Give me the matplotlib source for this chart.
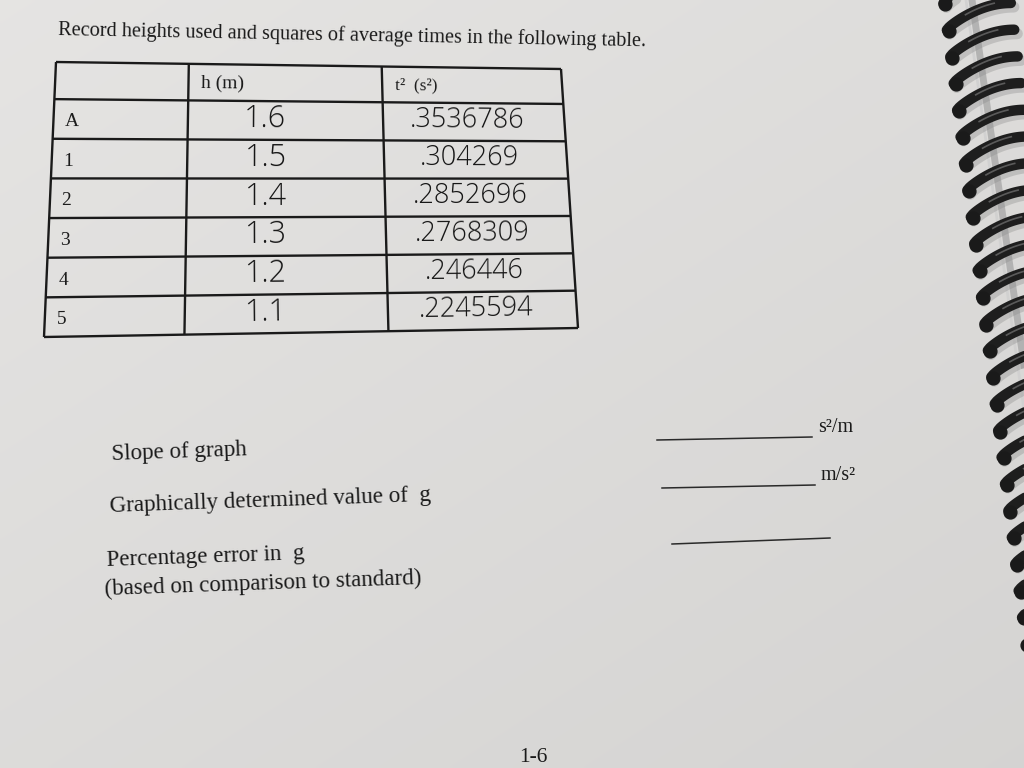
import numpy as np
import matplotlib
matplotlib.use("Agg")
import matplotlib.pyplot as plt

# ---- data (as written on the sheet) ----
row_labels = ["A", "1", "2", "3", "4", "5"]
heights_m = ["1.6", "1.5", "1.4", "1.3", "1.2", "1.1"]
t_squared_s2 = [".3536786", ".304269", ".2852696", ".2768309", ".246446", ".2245594"]
col_headers = ["", "h (m)", "t\u00b2  (s\u00b2)"]
title_text = "Record heights used and squares of average times in the following table."
questions = ["Slope of graph", "Graphically determined value of  g", "Percentage error in  g",
             "(based on comparison to standard)"]
units = ["s\u00b2/m", "m/s\u00b2", ""]
page_no = "1-6"

W, H = 1024, 768
fig = plt.figure(figsize=(W / 100, H / 100), dpi=100)
ax = fig.add_axes([0, 0, 1, 1])
ax.set_xlim(0, W)
ax.set_ylim(H, 0)
ax.axis("off")

# paper background with soft lighting gradient
yy, xx = np.mgrid[0:H:4, 0:W:4]
shade = 0.895 - 0.03 * (xx / W) - 0.035 * (yy / H)
bg = np.dstack([shade + 0.004, shade, shade - 0.006])
ax.imshow(np.clip(bg, 0, 1), extent=[0, W, H, 0], zorder=0, interpolation="bilinear")

ink = "#1a1a1a"
serif = ["Liberation Serif", "DejaVu Serif"]
hand = ["Open Sans", "DejaVu Sans"]

# title
ax.text(58, 30, title_text, fontsize=14.6, family=serif, color=ink,
        rotation=-1.1, rotation_mode="anchor", ha="left", va="center")

# ---- table (slightly skewed like the photo) ----
TL, TR = np.array([56.0, 62.0]), np.array([561.0, 69.0])
BL, BR = np.array([44.0, 337.0]), np.array([578.0, 328.0])

def P(u, v):
    top = TL + u * (TR - TL)
    bot = BL + u * (BR - BL)
    return top + v * (bot - top)

col_u = [0.0, 0.263, 0.645, 1.0]
n = len(row_labels)
header_v = 0.135
row_v = [0.0, header_v] + [header_v + (1 - header_v) * (i + 1) / n for i in range(n)]

for v in row_v:
    a, b = P(0, v), P(1, v)
    ax.plot([a[0], b[0]], [a[1], b[1]], color=ink, lw=1.7, zorder=3, solid_capstyle="butt")
for u in col_u:
    a, b = P(u, 0), P(u, 1)
    ax.plot([a[0], b[0]], [a[1], b[1]], color=ink, lw=1.7, zorder=3, solid_capstyle="butt")

def rot_at(v):
    top_ang = np.degrees(np.arctan2(TR[1] - TL[1], TR[0] - TL[0]))
    bot_ang = np.degrees(np.arctan2(BR[1] - BL[1], BR[0] - BL[0]))
    return -((1 - v) * top_ang + v * bot_ang)

# headers
hv = header_v * 0.52
for j, htxt in enumerate(col_headers):
    if not htxt:
        continue
    x, y = P(col_u[j] + 0.025, hv)
    ax.text(x, y, htxt, fontsize=14 if j == 1 else 12.5, family=serif, color=ink,
            rotation=rot_at(hv), rotation_mode="anchor", ha="left", va="center", zorder=4)

# rows
for i in range(n):
    vc = (row_v[i + 1] + row_v[i + 2]) / 2
    x, y = P(0.022, vc + 0.01)
    ax.text(x, y, row_labels[i], fontsize=14, family=serif, color=ink,
            rotation=rot_at(vc), rotation_mode="anchor", ha="left", va="center", zorder=4)
    x, y = P(0.415, vc - 0.005)
    ax.text(x, y, heights_m[i], fontsize=22, family=hand,
            fontweight="light", color="#151515", rotation=rot_at(vc),
            rotation_mode="anchor", ha="center", va="center", zorder=4)
    x, y = P(0.81, vc - 0.005)
    ax.text(x, y, t_squared_s2[i], fontsize=19.5, family=hand,
            fontweight="light", color="#151515", rotation=rot_at(vc),
            rotation_mode="anchor", ha="center", va="center", zorder=4)

# ---- questions ----
q_pos = [(112, 455), (110, 507), (107, 561), (105, 589)]
qsize = 16.6
for q, (x, y) in zip(questions, q_pos):
    ax.text(x, y, q, fontsize=qsize, family=serif, color=ink, rotation=2.0,
            rotation_mode="anchor", ha="left", va="center")

# answer lines and units
lines = [((657, 440), (812, 437)), ((662, 488), (815, 485)), ((672, 544), (830, 538))]
for (a, b), u in zip(lines, units):
    ax.plot([a[0], b[0]], [a[1], b[1]], color="#2a2a2a", lw=1.1)
    if u:
        ax.text(b[0] + 6, b[1] - 9, u, fontsize=14.5, family=serif, color=ink,
                ha="left", va="center")

ax.text(533, 757, page_no, fontsize=15.5, family=serif, color=ink, ha="center", va="center")

# ---- spiral binding on the right ----
ax.plot([972, 1024], [0, 365], color="#a9a9a9", lw=5, alpha=0.8, zorder=1)
ax.plot([966, 1024], [0, 410], color="#cfcfcf", lw=2, alpha=0.8, zorder=1)
tt = np.linspace(0, 1, 30)
for k in range(-1, 31):
    y0 = 30 + k * 26.7
    x0 = 943 + 0.128 * y0
    if x0 > W + 5:
        break
    xs = x0 + 64 * tt
    ys = y0 - 27 * np.sin(tt * np.pi / 2) ** 0.8
    ax.plot(xs + 3, ys + 4, color="#8a8a8a", lw=8, alpha=0.35, solid_capstyle="round", zorder=2)
    ax.plot(xs, ys, color="#1e1e1e", lw=7.5, solid_capstyle="round", zorder=3)
    ax.plot(xs[8:22] + 1, ys[8:22] - 1.8, color="#6a6a6a", lw=1.2, alpha=0.8, zorder=4)
    ax.scatter([x0 + 2], [y0 + 1], s=85, color="#1a1a1a", zorder=3)

fig.savefig("out.png", dpi=100)
